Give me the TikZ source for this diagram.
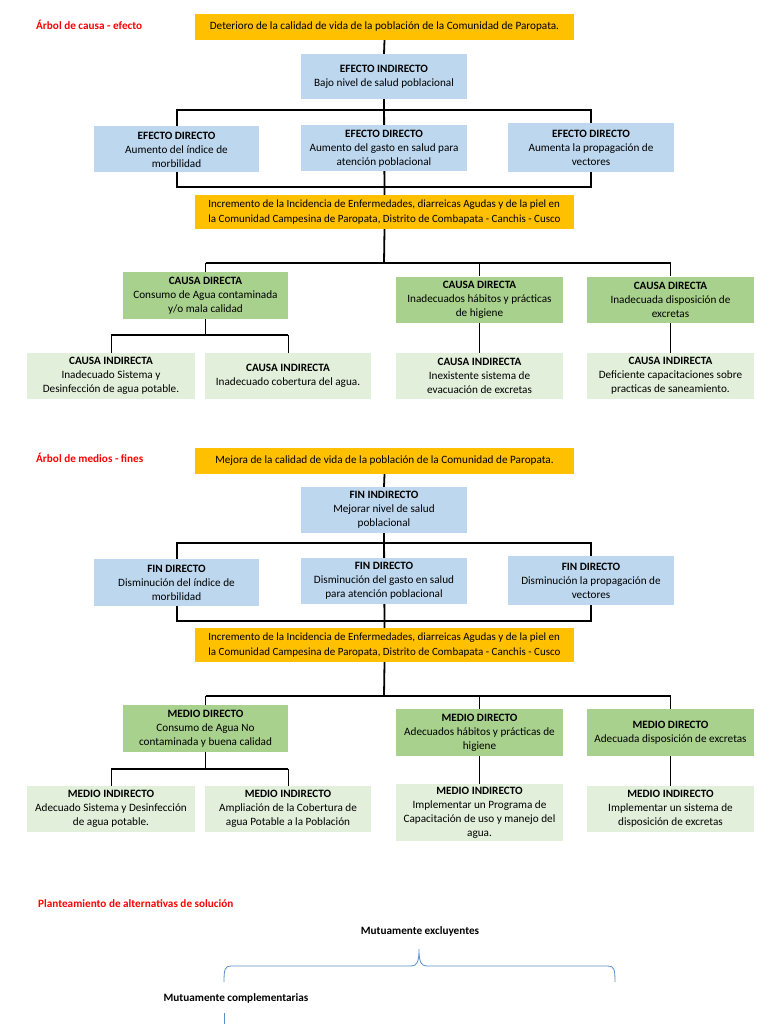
\documentclass[tikz,border=0pt]{standalone}
\usepackage{fontspec}
\setmainfont{Carlito}
\usetikzlibrary{backgrounds}
\definecolor{cOr}{HTML}{FFC000}
\definecolor{cBl}{HTML}{BDD7EE}
\definecolor{cGr}{HTML}{A9D18E}
\definecolor{cLg}{HTML}{E2EFDA}
\definecolor{cRed}{HTML}{FF0000}
\definecolor{cBrace}{HTML}{5B8FC9}
\begin{document}
\begin{tikzpicture}[x=1pt,y=-1pt,
  bx/.style={inner sep=1pt, align=center, font=\fontsize{11.2}{14}\selectfont},
  obox/.style={bx, fill=cOr},
  pbox/.style={obox, align=left, font=\fontsize{11}{14.5}\selectfont, minimum width=379pt, minimum height=34pt},
  bbox/.style={bx, fill=cBl},
  gbox/.style={bx, fill=cGr},
  lbox/.style={bx, fill=cLg},
  ln/.style={line width=1.8pt, black},
  lnt/.style={line width=0.9pt, black},
  ttl/.style={anchor=west, inner sep=0pt, text=cRed, font=\fontsize{11.2}{13}\selectfont\bfseries},
  lbl/.style={inner sep=0pt, font=\fontsize{11.2}{13}\selectfont\bfseries}
]
\begin{scope}[on background layer]
\fill[white] (0,0) rectangle (768,1024);
\end{scope}
\useasboundingbox (0,0) rectangle (768,1024);

% ---------------- Section 1 ----------------
\node[ttl] (title1) at (36,25) {Árbol de causa - efecto};
\node[obox, minimum width=379pt, minimum height=26pt] (t1) at (384.5,27) {Deterioro de la calidad de vida de la población de la Comunidad de Paropata.};
\node[bbox, minimum width=166pt, minimum height=45pt] (ei) at (384,76.5) {\textbf{EFECTO INDIRECTO}\\Bajo nivel de salud poblacional};
\node[bbox, minimum width=165pt, minimum height=46pt] (ed1) at (176.5,149.5) {\textbf{EFECTO DIRECTO}\\Aumento del índice de\\morbilidad};
\node[bbox, minimum width=166pt, minimum height=46pt] (ed2) at (384,148.5) {\textbf{EFECTO DIRECTO}\\Aumento del gasto en salud para\\atención poblacional};
\node[bbox, minimum width=166pt, minimum height=49pt] (ed3) at (591,147.5) {\textbf{EFECTO DIRECTO}\\Aumenta la propagación de\\vectores};
\node[pbox] (p1) at (384.5,212) {Incremento de la Incidencia de Enfermedades, diarreicas Agudas y de la piel en\\la Comunidad Campesina de Paropata, Distrito de Combapata - Canchis - Cusco};
\node[gbox, minimum width=165pt, minimum height=47pt] (cd1) at (205.5,295.5) {\textbf{CAUSA DIRECTA}\\Consumo de Agua contaminada\\y/o mala calidad};
\node[gbox, minimum width=167pt, minimum height=46pt] (cd2) at (479.5,299.5) {\textbf{CAUSA DIRECTA}\\Inadecuados hábitos y prácticas\\de higiene};
\node[gbox, minimum width=167pt, minimum height=46pt] (cd3) at (670.5,299.5) {\textbf{CAUSA DIRECTA}\\Inadecuada disposición de\\excretas};
\node[lbox, minimum width=168pt, minimum height=46pt] (ci1) at (111,376) {\textbf{CAUSA INDIRECTA}\\Inadecuado Sistema y\\Desinfección de agua potable.};
\node[lbox, minimum width=166pt, minimum height=46pt] (ci2) at (288,376) {\textbf{CAUSA INDIRECTA}\\Inadecuado cobertura del agua.};
\node[lbox, minimum width=167pt, minimum height=46pt] (ci3) at (479.5,376) {\textbf{CAUSA INDIRECTA}\\Inexistente sistema de\\evacuación de excretas};
\node[lbox, minimum width=167pt, minimum height=46pt] (ci4) at (670.5,376) {\textbf{CAUSA INDIRECTA}\\Deficiente capacitaciones sobre\\practicas de saneamiento.};

\coordinate (a1) at (177,110);
\coordinate (a2) at (591,110);
\coordinate (a3) at (591,187);
\coordinate (a4) at (177,187);
\coordinate (c0) at (384,263);
\coordinate (c1) at (205.5,263);
\coordinate (c3) at (670.5,263);
\coordinate (d0) at (205.5,335);
\coordinate (d1) at (111,335);
\coordinate (d2) at (288,335);

\begin{scope}[on background layer]
\draw[ln] (t1.south) -- (ei.north);
\draw[ln] (ei.south) -- (p1.north);
\draw[ln] (a1) -- (a2) -- (a3) -- (a4) -- cycle;
\draw[ln] (p1.south) -- (c0);
\draw[ln] (c1) -- (c3);
\draw[ln] (c1) -- (cd1.north);
\draw[lnt] (cd2.north |- c0) -- (cd2.north);
\draw[ln] (c3) -- (cd3.north);
\draw[ln] (cd1.south) -- (d0);
\draw[ln] (d1) -- (d2);
\draw[lnt] (d1) -- (ci1.north);
\draw[lnt] (d2) -- (ci2.north);
\draw[lnt] (cd2.south) -- (ci3.north);
\draw[ln] (cd3.south) -- (ci4.north);
\end{scope}

% ---------------- Section 2 ----------------
\node[ttl] (title2) at (36,458) {Árbol de medios - fines};
\node[obox, minimum width=379pt, minimum height=26pt] (t2) at (384.5,461) {Mejora de la calidad de vida de la población de la Comunidad de Paropata.};
\node[bbox, minimum width=166pt, minimum height=46pt] (fi) at (384,510) {\textbf{FIN INDIRECTO}\\Mejorar nivel de salud\\poblacional};
\node[bbox, minimum width=165pt, minimum height=47pt] (fd1) at (176.5,582.5) {\textbf{FIN DIRECTO}\\Disminución del índice de\\morbilidad};
\node[bbox, minimum width=166pt, minimum height=46pt] (fd2) at (384,581) {\textbf{FIN DIRECTO}\\Disminución del gasto en salud\\para atención poblacional};
\node[bbox, minimum width=166pt, minimum height=49pt] (fd3) at (591,580.5) {\textbf{FIN DIRECTO}\\Disminución la propagación de\\vectores};
\node[pbox] (p2) at (384.5,645) {Incremento de la Incidencia de Enfermedades, diarreicas Agudas y de la piel en\\la Comunidad Campesina de Paropata, Distrito de Combapata - Canchis - Cusco};
\node[gbox, minimum width=165pt, minimum height=47pt] (md1) at (205.5,728.5) {\textbf{MEDIO DIRECTO}\\Consumo de Agua No\\contaminada y buena calidad};
\node[gbox, minimum width=167pt, minimum height=47pt] (md2) at (479.5,732.5) {\textbf{MEDIO DIRECTO}\\Adecuados hábitos y prácticas de\\higiene};
\node[gbox, minimum width=167pt, minimum height=47pt] (md3) at (670.5,732.5) {\textbf{MEDIO DIRECTO}\\Adecuada disposición de excretas};
\node[lbox, minimum width=168pt, minimum height=46pt] (mi1) at (111,809) {\textbf{MEDIO INDIRECTO}\\Adecuado Sistema y Desinfección\\de agua potable.};
\node[lbox, minimum width=166pt, minimum height=46pt] (mi2) at (288,809) {\textbf{MEDIO INDIRECTO}\\Ampliación de la Cobertura de\\agua Potable a la Población};
\node[lbox, minimum width=167pt, minimum height=57pt] (mi3) at (479.5,812.5) {\textbf{MEDIO INDIRECTO}\\Implementar un Programa de\\Capacitación de uso y manejo del\\agua.};
\node[lbox, minimum width=167pt, minimum height=46pt] (mi4) at (670.5,809) {\textbf{MEDIO INDIRECTO}\\Implementar un sistema de\\disposición de excretas};

\coordinate (e1) at (177,543);
\coordinate (e2) at (591,543);
\coordinate (e3) at (591,621);
\coordinate (e4) at (177,621);
\coordinate (f0) at (384,696);
\coordinate (f1) at (205.5,696);
\coordinate (f3) at (670.5,696);
\coordinate (g0) at (205.5,769);
\coordinate (g1) at (111,769);
\coordinate (g2) at (288,769);

\begin{scope}[on background layer]
\draw[ln] (t2.south) -- (fi.north);
\draw[ln] (fi.south) -- (p2.north);
\draw[ln] (e1) -- (e2) -- (e3) -- (e4) -- cycle;
\draw[ln] (p2.south) -- (f0);
\draw[ln] (f1) -- (f3);
\draw[ln] (f1) -- (md1.north);
\draw[lnt] (md2.north |- f0) -- (md2.north);
\draw[ln] (f3) -- (md3.north);
\draw[ln] (md1.south) -- (g0);
\draw[ln] (g1) -- (g2);
\draw[lnt] (g1) -- (mi1.north);
\draw[lnt] (g2) -- (mi2.north);
\draw[lnt] (md2.south) -- (mi3.north);
\draw[ln] (md3.south) -- (mi4.north);
\end{scope}

% ---------------- Section 3 ----------------
\node[ttl] (title3) at (38,904) {Planteamiento de alternativas de solución};
\node[lbl] (mex) at (420,931) {Mutuamente excluyentes};
\node[lbl] (mco) at (236,998) {Mutuamente complementarias};
\draw[cBrace, line width=0.8pt] (224,982) .. controls (224,969) and (225,966) .. (231,966) -- (411,966) .. controls (417,966) and (419,962) .. (419,949) .. controls (419,962) and (421,966) .. (427,966) -- (608,966) .. controls (614,966) and (615,969) .. (615,982);
\draw[cBrace, line width=0.8pt] (224,1013) -- (224,1024);
\end{tikzpicture}
\end{document}
